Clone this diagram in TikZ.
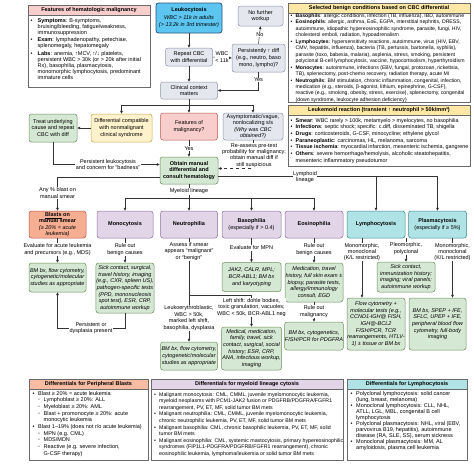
\documentclass[tikz,border=0pt]{standalone}
\usepackage{fontspec}
\setmainfont{Liberation Sans}
\usetikzlibrary{arrows.meta}
\definecolor{cgreyF}{HTML}{E4E7EE}
\definecolor{cgreyD}{HTML}{8C95A8}
\definecolor{cblueF}{HTML}{5CC6F0}
\definecolor{cblueD}{HTML}{2F4F7F}
\definecolor{cgreenF}{HTML}{D5E8D4}
\definecolor{cgreenD}{HTML}{6D8F5D}
\definecolor{cyelF}{HTML}{FFF2CC}
\definecolor{cyelD}{HTML}{C9A94A}
\definecolor{cyelH}{HTML}{FFE8A6}
\definecolor{cpinkF}{HTML}{F8CECC}
\definecolor{cpinkD}{HTML}{B85450}
\definecolor{csalF}{HTML}{F5AE92}
\definecolor{csalD}{HTML}{B85450}
\definecolor{csalH}{HTML}{F8BCA3}
\definecolor{cpurpF}{HTML}{E1D5E7}
\definecolor{cpurpD}{HTML}{8D6E9C}
\definecolor{ctealF}{HTML}{B0E3E6}
\definecolor{ctealD}{HTML}{3E8A90}
\definecolor{cline}{HTML}{333333}
\definecolor{cframe}{HTML}{6A6A6A}
\newcommand{\Bul}[1][6pt]{\makebox[#1][l]{\textbullet}}
\newcommand{\Cnt}[1][6pt]{\hspace*{#1}}
\newcommand{\SBul}{\hspace*{5.5pt}\makebox[5.5pt][l]{◦}}
\newcommand{\SCnt}{\hspace*{11pt}}
\newcommand{\fs}[1]{\fontsize{5.5}{#1}\selectfont}
\newcommand{\fss}[2]{\fontsize{#1}{#2}\selectfont}
\begin{document}
\begin{tikzpicture}[x=1pt,y=-1pt,
  font=\fs{6.7},
  sz/.style 2 args={minimum width=#1pt,minimum height=#2pt},
  fbox/.style={draw, rounded corners=2.5pt, line width=0.5pt, align=center, inner sep=0.3pt},
  greyb/.style={fbox, fill=cgreyF, draw=cgreyD},
  blueb/.style={fbox, fill=cblueF, draw=cblueD, line width=0.8pt},
  greenb/.style={fbox, fill=cgreenF, draw=cgreenD},
  greeni/.style={greenb, font=\fs{6.7}\itshape},
  yellowb/.style={fbox, fill=cyelF, draw=cyelD},
  pinkb/.style={fbox, fill=cpinkF, draw=cpinkD},
  salb/.style={fbox, fill=csalF, draw=csalD},
  purpb/.style={fbox, fill=cpurpF, draw=cpurpD},
  tealb/.style={fbox, fill=ctealF, draw=ctealD},
  lbl/.style={align=center, fill=white, inner sep=0.5pt},
  conn/.style={draw=cline, line width=0.5pt},
  arr/.style={conn, -{Triangle[length=2.8pt,width=2.6pt]}},
  ibox/.style={draw=cframe, line width=0.6pt, inner sep=0pt, fill=white},
  ihead/.style={draw=cframe, line width=0.4pt, inner sep=0pt, font=\fs{6}\bfseries},
  ibody/.style={anchor=north west, align=left, inner sep=0pt}
]
\useasboundingbox (0,0) rectangle (474,469);

% ---------- info boxes ----------
\node[ibox, sz={122}{82}] (featF) at (89,46) {};
\node[ihead, fill=cpinkF, sz={122}{10}, anchor=north] (featH) at (featF.north) {Features of hematologic malignancy};
\node[ibody, font=\fs{6}] (featB) at (30.5,18.6) {%
\Bul[7pt]\textbf{Symptoms}: B-symptoms,\\
\Cnt[7pt]bruising/bleeding, fatigue/weakness,\\
\Cnt[7pt]immunosuppression\\[1.2pt]
\Bul[7pt]\textbf{Exam}: lymphadenopathy, petechiae,\\
\Cnt[7pt]splenomegaly, hepatomegaly\\[1.2pt]
\Bul[7pt]\textbf{Labs}: anemia, ↑MCV, ↑/↓ platelets,\\
\Cnt[7pt]persistent WBC > 30k (or > 20k after initial\\
\Cnt[7pt]Rx), basophilia, plasmacytosis,\\
\Cnt[7pt]monomorphic lymphocytosis, predominant\\
\Cnt[7pt]immature cells};

\node[ibox, sz={182}{99}] (selF) at (379,52.5) {};
\node[ihead, fill=cyelH, sz={182}{10}, anchor=north] (selH) at (selF.north) {Selected benign conditions based on CBC differential};
\node[ibody, font=\fss{5.15}{6.45}] (selB) at (290.5,13.6) {%
\Bul[5pt]\textbf{Basophils}: allergic conditions, infection (TB, influenza), IBD, autoimmune\\
\Bul[5pt]\textbf{Eosinophils}: allergic, asthma, EoE, EGPA, interstitial nephritis, DRESS,\\
\Cnt[5pt]autoimmune, idiopathic hypereosinophilic syndrome, parasite, fungi, HIV,\\
\Cnt[5pt]cholesterol emboli, radiation, hypoadrenalism\\
\Bul[5pt]\textbf{Lymphocytes}: hypersensitivity reactions, autoimmune, virus (HIV, EBV,\\
\Cnt[5pt]CMV, hepatitis, influenza), bacteria (TB, pertussis, bartonella, syphilis),\\
\Cnt[5pt]parasite (toxo, babesia, malaria), asplenia, stress, smoking, persistent\\
\Cnt[5pt]polyclonal B-cell lymphocytosis, vaccine, hypocortisolism, hyperthyroidism\\
\Bul[5pt]\textbf{Monocytes}: autoimmune, infections (EBV, fungal, protozoan, rickettsia,\\
\Cnt[5pt]TB), splenectomy, post-chemo recovery, radiation therapy, acute MI\\
\Bul[5pt]\textbf{Neutrophils}: BM stimulation, chronic inflammation, congenital, infection,\\
\Cnt[5pt]medication (e.g., steroids, β-agonist, lithium, epinephrine, G-CSF),\\
\Cnt[5pt]reactive (e.g., smoking, obesity, stress, exercise), splenectomy, congenital\\
\Cnt[5pt](down syndrome, leukocyte adhesion deficiency)};

\node[ibox, sz={182}{61}] (lmF) at (379,135.5) {};
\node[ihead, fill=cyelH, sz={182}{10}, anchor=north] (lmH) at (lmF.north) {Leukemoid reaction (transient ↑ neutrophil > 50k/mm³)};
\node[ibody, font=\fss{5.4}{6.67}] (lmB) at (290.5,118) {%
\Bul[5pt]\textbf{Smear}: WBC rarely > 100k, metamyelo > myelocytes, no basophilia\\
\Bul[5pt]\textbf{Infections}: septic shock; specific: c.diff, disseminated TB, shigella\\
\Bul[5pt]\textbf{Drugs}: corticosteroids, G-CSF, minocycline; ethylene glycol\\
\Bul[5pt]\textbf{Paraneoplastic}: carcinomas, HL, melanoma, sarcoma\\
\Bul[5pt]\textbf{Tissue ischemia}: myocardial infarction, mesenteric ischemia, gangrene\\
\Bul[5pt]\textbf{Others}: severe hemorrhage/hemolysis, alcoholic steatohepatitis,\\
\Cnt[5pt]mesenteric inflammatory pseudotumor};

\node[ibox, sz={119}{81}] (pbF) at (88.5,419.5) {};
\node[ihead, fill=csalH, sz={119}{10}, anchor=north] (pbH) at (pbF.north) {Differentials for Peripheral Blasts};
\node[ibody, font=\fs{6.65}] (pbB) at (32.5,391) {%
\Bul[5.5pt]Blast ≥ 20\% = acute leukemia\\
\SBul Lymphoblast ≥ 20\%: ALL\\
\SBul Myeloblast ≥ 20\%: AML\\
\SBul Blast + promonocyte ≥ 20\%: acute\\
\SCnt monocytic leukemia\\
\Bul[5.5pt]Blast 1–19\% (does not r/o acute leukemia)\\
\SBul MPN (e.g. CML)\\
\SBul MDS/MDN\\
\SBul Reactive (e.g. severe infection,\\
\SCnt G-CSF therapy)};

\node[ibox, sz={192}{81}] (myF) at (247,419.5) {};
\node[ihead, fill=cpurpF, sz={192}{10}, anchor=north] (myH) at (myF.north) {Differentials for myeloid lineage cytosis};
\node[ibody, font=\fss{5.25}{6.6}] (myB) at (154,392) {%
\Bul[5pt]Malignant monocytosis: CML, CMML, juvenile myelomonocytic leukemia,\\
\Cnt[5pt]myeloid neoplasms with PCM1-JAK2 fusion or PDGFRB/PDGFRA/FGFR1\\
\Cnt[5pt]rearrangement, PV, ET, MF, solid tumor BM mets\\
\Bul[5pt]Malignant neutrophilia: CML, CMML, juvenile myelomonocytic leukemia,\\
\Cnt[5pt]chronic neutrophilic leukemia, PV, ET, MF, solid tumor BM mets\\
\Bul[5pt]Malignant basophilia: CML, chronic basophilic leukemia, PV, ET, MF, solid\\
\Cnt[5pt]tumor BM mets\\
\Bul[5pt]Malignant eosinophilia: CML, systemic mastocytosis, primary hypereosinophilic\\
\Cnt[5pt]syndromes (FIP1L1-PDGFRA/PDGFRB/FGFR1 rearrangement), chronic\\
\Cnt[5pt]eosinophilic leukemia, lymphoma/leukemia or solid tumor BM mets};

\node[ibox, sz={120}{81}] (lyF) at (407,419.5) {};
\node[ihead, fill=ctealF, sz={120}{10}, anchor=north] (lyH) at (lyF.north) {Differentials for Lymphocytosis};
\node[ibody, font=\fs{6.0}] (lyB) at (350.5,391) {%
\Bul[5.5pt]Polyclonal lymphocytosis: solid cancer\\
\Cnt[5.5pt](lung, breast, melanoma)\\
\Bul[5.5pt]Monoclonal lymphocytosis: CLL, NHL,\\
\Cnt[5.5pt]ATLL, LGL, MBL, congenital B cell\\
\Cnt[5.5pt]lymphocytosis\\
\Bul[5.5pt]Polyclonal plasmacytosis: NHL, viral (EBV,\\
\Cnt[5.5pt]parvovirus B19, hepatitis), autoimmune\\
\Cnt[5.5pt]disease (RA, SLE, SS), serum sickness\\
\Bul[5.5pt]Monoclonal plasmacytosis: MM, AL\\
\Cnt[5.5pt]amyloidosis, plasma cell leukemia};

% ---------- flowchart boxes ----------
\node[blueb, sz={66}{30}] (leuko) at (189,18) {\textbf{Leukocytosis}\\[0.8pt]\textit{WBC > 11k in adults}\\[0.8pt]\textit{(> 13.2k in 3rd trimester)}};
\node[greyb, sz={45}{20}] (nofurther) at (260.5,16) {No further\\workup};
\node[greyb, sz={47}{18}] (repeat) at (189,57) {Repeat CBC\\with differential};
\node[greyb, sz={53}{28}] (persist) at (258.5,58) {Persistently ↑ diff\\(e.g., neutro, baso\\mono, lympho)?};
\node[greyb, sz={57}{17}] (clinical) at (189,90.5) {Clinical context\\matters};
\node[yellowb, sz={61}{28}] (diffcomp) at (121.5,128) {Differential compatible\\with nonmalignant\\clinical syndrome};
\node[greenb, sz={48}{28}] (treat) at (53,128) {Treat underlying\\cause and repeat\\CBC with diff};
\node[pinkb, sz={57}{27}] (featmal) at (189,126.5) {Features of\\malignancy?};
\node[greyb, sz={60}{27}, font=\fs{6.3}] (asymp) at (253,126.5) {Asymptomatic/vague,\\nonlocalizing s/s\\\textit{(Why was CBC}\\\textit{obtained?)}};
\node[greenb, sz={58}{27}, font=\fs{6.7}\bfseries] (obtain) at (189,170.5) {Obtain manual\\differential and\\consult hematology};

\node[salb, sz={57}{27}, font=\fs{6.3}] (blasts) at (57.5,224.5) {\textbf{\underline{Blasts} on}\\\textbf{manual smear}\\\textit{(≥ 20\% = acute}\\\textit{leukemia)}};
\node[purpb, sz={56}{27}] (mono) at (125,224.5) {\textbf{Monocytosis}};
\node[purpb, sz={57}{27}] (neutro) at (189,224.5) {\textbf{Neutrophilia}};
\node[purpb, sz={59}{27}] (baso) at (251.5,224.5) {\textbf{Basophilia}\\(especially if > 0.4)};
\node[purpb, sz={58}{27}] (eosino) at (314,224.5) {\textbf{Eosinophilia}};
\node[tealb, sz={58}{27}] (lympho) at (376,224.5) {\textbf{Lymphocytosis}};
\node[tealb, sz={58}{27}] (plasma) at (437.5,224.5) {\textbf{Plasmacytosis}\\(especially if ≥ 5\%)};

\node[greeni, sz={57}{29}] (bm1) at (57.5,277.5) {BM bx, flow cytometry,\\cytogenetic/molecular\\studies as appropriate};
\node[greeni, sz={56}{50}] (sick1) at (125,288) {Sick contact, surgical,\\travel history, imaging\\(e.g., CXR, spleen US),\\pathogen-specific tests\\(PPD, mononucleosis\\spot test), ESR, CRP,\\autoimmune workup};
\node[greeni, sz={59}{29}] (jak) at (251.5,277) {JAK2, CALR, MPL;\\BCR-ABL1; BM bx\\and karyotyping};
\node[greeni, sz={58}{39}] (eos1) at (314,282.5) {Medication, travel\\history, full skin exam ±\\biopsy, parasite tests,\\allergy/immunology\\consult, EGD};
\node[greeni, sz={58}{28}] (eos2) at (314,336) {BM bx, cytogenetics,\\FISH/PCR for PDGFRA};
\node[greeni, sz={58}{30}] (sick2) at (406,277) {Sick contact,\\immunization history;\\imaging; viral panels;\\autoimmune workup};
\node[greeni, sz={58}{52}] (flow) at (376,324) {Flow cytometry +\\molecular tests (e.g.,\\CCND1-IGH@ FISH,\\IGH@-BCL2\\FISH/PCR, TCR\\rearrangements, HTLV-\\1) ± tissue or BM bx};
\node[greeni, sz={57}{52}] (plbm) at (437.5,324) {BM bx, SPEP + IFE,\\SFLC, UPEP + IFE,\\peripheral blood flow\\cytometry, full-body\\imaging};
\node[greeni, sz={57}{28}] (bm2) at (189,356) {BM bx, flow cytometry,\\cytogenetic/molecular\\studies as appropriate};
\node[greeni, sz={60}{43}] (medical) at (251.5,348.5) {Medical, medication,\\family, travel, sick\\contact, surgical, social\\history; ESR, CRP,\\ANA, infectious workup,\\imaging};

% ---------- junction coordinates ----------
\coordinate (cj) at (189,105.5);
\coordinate (mj) at (189,198);
\coordinate (lj) at (376,176.5);
\coordinate (nj) at (189,295);
\coordinate (pj) at (125,328);

% ---------- connectors ----------
\draw[arr] (leuko.south) -- (repeat.north);
\draw[arr] (repeat.east) -- (persist.west);
\draw[arr] (persist.north) -- (nofurther.south);
\draw[arr] (persist.south) |- (clinical.east);
\draw[arr] (repeat.south) -- (clinical.north);
\draw[conn] (clinical.south) -- (cj);
\draw[arr] (cj) -| (diffcomp.north);
\draw[arr] (cj) -| (asymp.north);
\draw[arr] (cj) -- (featmal.north);
\draw[arr] (diffcomp.west) -- (treat.east);
\draw[arr] (featmal.south) -- (obtain.north);
\draw[arr, dashed] (asymp.south) |- ([yshift=2pt]obtain.east);
\draw[arr] ([yshift=-6pt]obtain.east) -| (plasma.north);
\draw[arr] (lj) -- (lympho.north);
\draw[arr] (treat.south) |- ([yshift=6pt]obtain.west);
\draw[arr] ([yshift=-7pt]obtain.west) -| (blasts.north);
\draw[conn] (obtain.south) -- (mj);
\draw[arr] (mj) -| (mono.north);
\draw[arr] (mj) -| (eosino.north);
\draw[arr] (mj) -- (neutro.north);
\draw[arr] (baso.north |- mj) -- (baso.north);
\draw[arr] (blasts.south) -- (bm1.north);
\draw[arr] (mono.south) -- (sick1.north);
\draw[arr] (sick1.south) -- (pj) -| (bm1.south);
\draw[conn] (neutro.south) -- (nj);
\draw[arr] (nj) -- (bm2.north);
\draw[arr] (nj) -| (medical.north);
\draw[arr] (baso.south) -- (jak.north);
\draw[arr] (eosino.south) -- (eos1.north);
\draw[arr] (eos1.south) -- (eos2.north);
\draw[arr] ([xshift=-14pt]lympho.south) -- ([xshift=-14pt]flow.north);
\draw[arr] (sick2.north |- lympho.south) -- (sick2.north);
\draw[arr] ([xshift=15pt]plasma.south) -- ([xshift=15pt]plbm.north);

% ---------- labels ----------
\node[lbl] (wbc) at (222,57) {WBC\\< 11k};
\node[lbl] (no) at (260,35) {No};
\node[lbl] (yes1) at (258.5,80) {Yes};
\node[lbl] (yes2) at (189,148.5) {Yes};
\node[lbl, font=\fs{6.3}] (reassess) at (254,155.5) {Re-assess pre-test\\probability for malignancy;\\obtain manual diff if\\still suspicious};
\node[lbl] (persistl) at (108,164.5) {Persistent leukocytosis\\and concern for “badness”};
\node[lbl] (anyblast) at (57.5,193) {Any \% blast on\\manual smear};
\node[lbl] (myel) at (189,191.5) {Myeloid lineage};
\node[lbl] (lymphl) at (305,177) {Lymphoid\\lineage};
\node[lbl] (evalal) at (57.5,249.5) {Evaluate for acute leukemia\\and precursors (e.g., MDS)};
\node[lbl] (rob1) at (125,249.5) {Rule out\\benign causes};
\node[lbl] (assess) at (189,251.5) {Assess if smear\\appears “malignant”\\or “benign”};
\node[lbl] (evalmpn) at (251.5,248) {Evaluate for MPN};
\node[lbl] (rob2) at (314,249.5) {Rule out\\benign causes};
\node[lbl] (rom) at (314,311.5) {Rule out\\malignancy};
\node[lbl, font=\fs{6.3}] (mono1) at (362,252) {Monomorphic,\\monoclonal\\(K/L restricted)};
\node[lbl] (pleo) at (406,248.5) {Pleomorphic,\\polyclonal};
\node[lbl, font=\fs{6.3}] (mono2) at (452.5,252) {Monomorphic,\\monoclonal\\(K/L restricted)};
\node[lbl, font=\fs{6.4}] (leukoery) at (189,318) {Leukoerythroblastic,\\WBC > 50k,\\marked left shift,\\basophilia, dysplasia};
\node[lbl, font=\fs{6.4}] (leftshift) at (251.5,307.5) {Left shift: dohle bodies,\\toxic granulation, vacuoles;\\WBC < 50k, BCR-ABL1 neg};
\node[lbl] (persdys) at (91,328) {Persistent or\\dysplasia present};
\end{tikzpicture}
\end{document}
